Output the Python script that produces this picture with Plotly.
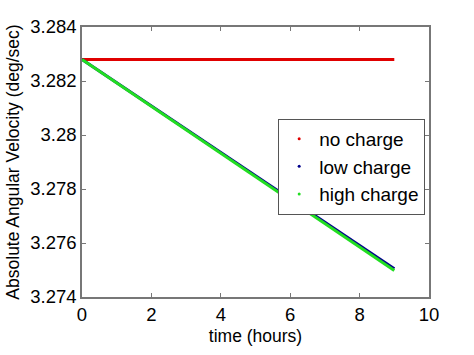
import plotly.graph_objects as go

time_hours = [0, 9]
no_charge = [3.2828, 3.2828]
low_charge = [3.2828, 3.27505]
high_charge = [3.2828, 3.27498]

series_names = ["no charge", "low charge", "high charge"]
series_colors = ["#e00000", "#00008b", "#22dd22"]

x_ticks = [0, 2, 4, 6, 8, 10]
y_ticks = [3.274, 3.276, 3.278, 3.28, 3.282, 3.284]
y_tick_labels = ["3.274", "3.276", "3.278", "3.28", "3.282", "3.284"]

FONT = "Arial, Liberation Sans"

fig = go.Figure()
for name, vals, col in zip(series_names, [no_charge, low_charge, high_charge], series_colors):
    fig.add_trace(go.Scatter(x=time_hours, y=vals, mode="lines",
                             line=dict(color=col, width=3), showlegend=False))
for name, col in zip(series_names, series_colors):
    fig.add_trace(go.Scatter(x=[None], y=[None], mode="markers", name=name,
                             marker=dict(color=col, size=3)))

axis_common = dict(showgrid=False, zeroline=False, showline=True, mirror="ticks",
                   linecolor="#777777", linewidth=1.5, ticks="inside", ticklen=4,
                   tickcolor="#777777",
                   tickfont=dict(family=FONT, size=18.5, color="black"))

fig.update_xaxes(range=[0, 10], tickvals=x_ticks,
                 title=dict(text="time (hours)", font=dict(family=FONT, size=17.5, color="black"), standoff=6),
                 **axis_common)
fig.update_yaxes(range=[3.274, 3.284], tickvals=y_ticks, ticktext=y_tick_labels,
                 title=dict(text="Absolute Angular Velocity (deg/sec)", font=dict(family=FONT, size=17.5, color="black"), standoff=6),
                 **axis_common)

fig.update_layout(
    width=474, height=355,
    margin=dict(l=79, r=45, t=27, b=45),
    plot_bgcolor="white", paper_bgcolor="white",
    legend=dict(x=0.989, y=0.66, xanchor="right", yanchor="top",
                bgcolor="white", bordercolor="#555555", borderwidth=1,
                font=dict(family=FONT, size=19, color="black"),
                itemwidth=30, tracegroupgap=0),
)

fig.write_html("out.html")
